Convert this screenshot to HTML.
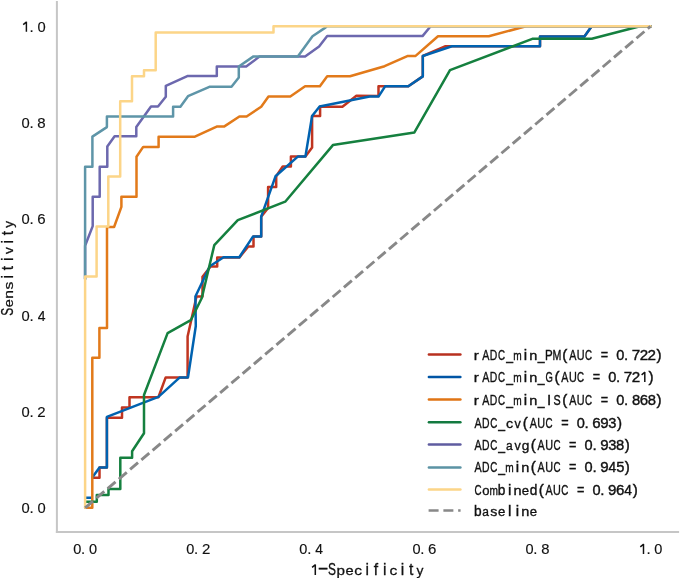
<!DOCTYPE html>
<html><head><meta charset="utf-8"><title>ROC</title>
<style>
html,body{margin:0;padding:0;background:#fff;}
body{width:680px;height:578px;overflow:hidden;font-family:"Liberation Sans",sans-serif;}
svg{display:block;will-change:transform;}
</style></head><body>
<svg width="680" height="578" viewBox="0 0 680 578">
<rect width="680" height="578" fill="#ffffff"/>
<line x1="56.9" y1="1.1" x2="56.9" y2="532.9" stroke="#C6C6C6" stroke-width="2"/>
<line x1="55.9" y1="531.9" x2="679.1" y2="531.9" stroke="#C6C6C6" stroke-width="2"/>
<g fill="none" stroke-width="2.5" stroke-linejoin="round" stroke-linecap="round">
<polyline points="92.3,477.8 99.5,477.8 99.5,467.4 106.9,467.4 106.9,417.7 122.0,417.7 122.0,407.4 129.5,407.4 129.5,397.3 158.4,397.3 165.7,377.4 187.6,377.4 187.6,336.5 196.5,296.6 202.5,296.6 202.5,276.8 210.6,266.5 217.2,266.5 217.2,257.6 239.3,257.6 248.1,246.6 253.5,246.6 253.5,236.4 261.2,236.4 261.2,216.6 268.1,207.9 268.1,186.9 276.2,186.9 276.2,176.2 282.7,166.4 290.9,166.4 290.9,156.6 305.4,156.6 312.1,147.6 312.1,116.0 320.1,116.0 320.1,106.8 342.4,106.8 356.4,95.8 378.5,95.9 378.5,86.3 385.1,86.3 408.3,86.3 422.8,76.4 422.8,56.0 445.0,46.3 540.0,46.3 540.0,36.4 584.4,36.4 590.3,28.2 591.7,26.3 650.5,26.3" stroke="#C03520"/>
<polyline points="85.9,497.8 91.2,497.8" stroke="#0062B0"/>
<polyline points="92.6,477.0 99.5,467.4 106.9,467.4 106.9,416.8 158.4,396.9 179.8,377.4 188.0,377.4 195.8,326.0 195.4,296.5 209.8,266.2 223.6,257.2 239.3,257.2 253.1,236.4 261.2,236.4 261.2,216.6 275.5,176.3 297.8,156.6 305.4,156.6 312.1,116.0 319.6,106.4 369.7,96.6 378.5,96.6 385.1,86.3 408.3,86.3 422.8,76.4 422.8,56.0 451.9,46.3 540.0,46.3 540.0,36.4 584.4,36.4 590.3,28.2 591.7,26.3 650.5,26.3" stroke="#0062B0"/>
<polyline points="85.1,507.8 92.3,507.8 92.3,357.7 99.4,357.7 99.4,328.1 107.0,328.1 107.0,227.0 114.1,227.0 121.4,206.9 121.4,196.7 136.5,196.7 136.5,156.7 143.2,146.9 158.6,146.9 158.6,136.7 194.9,136.7 216.7,126.6 224.0,126.6 239.4,116.5 246.6,116.5 261.2,106.8 268.5,96.5 290.3,96.5 305.1,86.3 319.9,86.3 327.2,76.2 350.0,76.2 384.6,66.2 407.9,55.9 415.6,55.9 438.0,36.2 488.8,36.2 526.0,26.3 650.5,26.3" stroke="#E27A1A"/>
<polyline points="86.2,501.7 96.8,501.7 96.8,495.1 108.5,495.1 108.5,489.0 120.3,489.0 120.3,457.8 132.1,457.8 132.1,451.3 144.0,433.2 144.0,395.0 167.6,333.1 190.8,320.2 201.8,298.0 214.3,245.1 237.8,220.1 285.2,201.7 332.9,145.1 414.4,132.4 450.0,70.2 532.3,38.8 591.8,38.8 640.0,26.3 650.5,26.3" stroke="#15803F"/>
<polyline points="85.1,279.0 85.1,245.7 92.7,226.1 92.7,196.7 99.7,196.7 99.7,166.8 107.3,166.8 107.3,146.5 114.6,136.3 136.3,136.3 136.3,126.9 151.0,106.6 158.0,106.6 165.8,96.7 165.8,85.8 187.3,76.1 216.8,76.1 216.8,66.5 246.2,66.5 259.5,56.6 305.1,56.6 319.1,46.5 327.2,36.1 422.5,36.1 429.0,28.2 430.5,26.3 650.5,26.3" stroke="#6C68AE"/>
<polyline points="85.1,279.0 85.1,166.8 92.4,166.8 92.4,136.6 106.9,127.1 106.9,116.6 173.1,116.6 173.1,106.8 180.4,106.8 188.0,96.2 209.4,86.8 231.5,86.8 238.8,77.5 238.8,66.5 253.5,56.4 297.8,56.4 312.5,36.2 325.7,27.4 327.0,26.3 650.5,26.3" stroke="#5E95A8"/>
<polyline points="85.1,507.8 85.1,276.4 96.6,276.4 96.6,226.4 108.3,226.4 108.3,176.4 120.2,176.4 120.2,101.3 132.0,101.3 132.0,76.2 144.0,76.2 144.0,70.2 155.7,70.2 155.7,32.6 273.5,32.6 273.5,26.2 650.5,26.2" stroke="#FCD588"/>
</g>
<line x1="85.1" y1="507.8" x2="650.5" y2="26.3" stroke="#888888" stroke-width="2.9" stroke-dasharray="10.4 4.38" stroke-linecap="butt"/>
<g font-family="Liberation Sans, sans-serif" fill="#111111" stroke="#111111" stroke-width="0.4">
<g stroke-width="0.15">
<text transform="translate(21.40,513.20) scale(0.982,1.0)" font-size="15">0</text>
<text transform="translate(29.42,513.20) scale(1.000,1.0)" font-size="15">.</text>
<text transform="translate(37.40,513.20) scale(0.982,1.0)" font-size="15">0</text>
<text transform="translate(21.40,416.90) scale(0.982,1.0)" font-size="15">0</text>
<text transform="translate(29.42,416.90) scale(1.000,1.0)" font-size="15">.</text>
<text transform="translate(37.33,416.90) scale(1.000,1.0)" font-size="15">2</text>
<text transform="translate(21.40,320.60) scale(0.982,1.0)" font-size="15">0</text>
<text transform="translate(29.42,320.60) scale(1.000,1.0)" font-size="15">.</text>
<text transform="translate(37.66,320.60) scale(0.931,1.0)" font-size="15">4</text>
<text transform="translate(21.40,224.30) scale(0.982,1.0)" font-size="15">0</text>
<text transform="translate(29.42,224.30) scale(1.000,1.0)" font-size="15">.</text>
<text transform="translate(37.28,224.30) scale(1.000,1.0)" font-size="15">6</text>
<text transform="translate(21.40,128.00) scale(0.982,1.0)" font-size="15">0</text>
<text transform="translate(29.42,128.00) scale(1.000,1.0)" font-size="15">.</text>
<text transform="translate(37.33,128.00) scale(1.000,1.0)" font-size="15">8</text>
<path d="M26.40,31.70 V21.68 M26.60,21.88 L23.20,24.58" fill="none" stroke-width="1.46" stroke-linecap="butt"/>
<text transform="translate(29.42,31.70) scale(1.000,1.0)" font-size="15">.</text>
<text transform="translate(37.40,31.70) scale(0.982,1.0)" font-size="15">0</text>
<text transform="translate(73.16,554.00) scale(0.970,1.0)" font-size="15">0</text>
<text transform="translate(81.02,554.00) scale(1.000,1.0)" font-size="15">.</text>
<text transform="translate(88.96,554.00) scale(0.970,1.0)" font-size="15">0</text>
<text transform="translate(186.24,554.00) scale(0.970,1.0)" font-size="15">0</text>
<text transform="translate(194.10,554.00) scale(1.000,1.0)" font-size="15">.</text>
<text transform="translate(201.91,554.00) scale(1.000,1.0)" font-size="15">2</text>
<text transform="translate(299.32,554.00) scale(0.970,1.0)" font-size="15">0</text>
<text transform="translate(307.18,554.00) scale(1.000,1.0)" font-size="15">.</text>
<text transform="translate(315.37,554.00) scale(0.920,1.0)" font-size="15">4</text>
<text transform="translate(412.40,554.00) scale(0.970,1.0)" font-size="15">0</text>
<text transform="translate(420.26,554.00) scale(1.000,1.0)" font-size="15">.</text>
<text transform="translate(428.02,554.00) scale(1.000,1.0)" font-size="15">6</text>
<text transform="translate(525.48,554.00) scale(0.970,1.0)" font-size="15">0</text>
<text transform="translate(533.34,554.00) scale(1.000,1.0)" font-size="15">.</text>
<text transform="translate(541.20,554.00) scale(0.988,1.0)" font-size="15">8</text>
<path d="M643.50,554.00 V543.98 M643.70,544.18 L640.30,546.88" fill="none" stroke-width="1.46" stroke-linecap="butt"/>
<text transform="translate(646.42,554.00) scale(1.000,1.0)" font-size="15">.</text>
<text transform="translate(654.36,554.00) scale(0.970,1.0)" font-size="15">0</text>
</g>
<g stroke-width="0.3">
<path d="M315.30,574.90 V564.47 M315.50,564.67 L312.10,567.37" fill="none" stroke-width="1.52" stroke-linecap="butt"/>
<text transform="translate(317.62,573.30) scale(2.149,1.0)" font-size="15.6">-</text>
<text transform="translate(328.03,574.90) scale(0.764,1.0)" font-size="15.6">S</text>
<text transform="translate(336.38,574.90) scale(0.978,0.87)" font-size="15.6">p</text>
<text transform="translate(345.55,574.90) scale(0.938,0.87)" font-size="15.6">e</text>
<text transform="translate(354.37,574.90) scale(1.000,0.87)" font-size="15.6">c</text>
<text transform="translate(365.47,574.90) scale(1.000,1.0)" font-size="15.6">i</text>
<text transform="translate(373.71,574.90) scale(1.000,1.0)" font-size="15.6">f</text>
<text transform="translate(383.07,574.90) scale(1.000,1.0)" font-size="15.6">i</text>
<text transform="translate(389.57,574.90) scale(1.000,0.87)" font-size="15.6">c</text>
<text transform="translate(400.67,574.90) scale(1.000,1.0)" font-size="15.6">i</text>
<text transform="translate(408.97,574.90) scale(1.000,1.0)" font-size="15.6">t</text>
<text transform="translate(416.53,574.90) scale(0.888,0.87)" font-size="15.6">y</text>
<g transform="translate(13.2,268.1) rotate(-90)">
<text transform="translate(-47.70,0.00) scale(0.760,1.0)" font-size="15.6">S</text>
<text transform="translate(-39.03,0.00) scale(0.932,0.87)" font-size="15.6">e</text>
<text transform="translate(-30.60,0.00) scale(1.000,0.87)" font-size="15.6">n</text>
<text transform="translate(-21.34,0.00) scale(1.000,0.87)" font-size="15.6">s</text>
<text transform="translate(-10.48,0.00) scale(1.000,1.0)" font-size="15.6">i</text>
<text transform="translate(-2.23,0.00) scale(1.000,1.0)" font-size="15.6">t</text>
<text transform="translate(7.02,0.00) scale(1.000,1.0)" font-size="15.6">i</text>
<text transform="translate(14.04,0.00) scale(0.887,0.87)" font-size="15.6">v</text>
<text transform="translate(24.52,0.00) scale(1.000,1.0)" font-size="15.6">i</text>
<text transform="translate(32.77,0.00) scale(1.000,1.0)" font-size="15.6">t</text>
<text transform="translate(40.30,0.00) scale(0.883,0.87)" font-size="15.6">y</text>
</g>
</g>
<line x1="428.9" y1="354.40" x2="460.4" y2="354.40" stroke="#B8301F" stroke-width="2.5" stroke-linecap="round"/>
<text transform="translate(473.79,359.60) scale(1.000,0.87)" font-size="15.2">r</text>
<text transform="translate(482.32,359.60) scale(0.705,1.0)" font-size="15.2">A</text>
<text transform="translate(489.87,359.60) scale(0.684,1.0)" font-size="15.2">D</text>
<text transform="translate(498.12,359.60) scale(0.640,1.0)" font-size="15.2">C</text>
<text transform="translate(506.23,359.60) scale(0.803,1.0)" font-size="15.2">_</text>
<text transform="translate(513.27,359.60) scale(0.668,0.87)" font-size="15.2">m</text>
<text transform="translate(523.72,359.60) scale(1.000,1.0)" font-size="15.2">i</text>
<text transform="translate(529.26,359.60) scale(0.954,0.87)" font-size="15.2">n</text>
<text transform="translate(537.83,359.60) scale(0.803,1.0)" font-size="15.2">_</text>
<text transform="translate(545.07,359.60) scale(0.762,1.0)" font-size="15.2">P</text>
<text transform="translate(552.57,359.60) scale(0.699,1.0)" font-size="15.2">M</text>
<text transform="translate(562.34,359.60) scale(1.000,1.0)" font-size="15.2">(</text>
<text transform="translate(569.22,359.60) scale(0.705,1.0)" font-size="15.2">A</text>
<text transform="translate(576.78,359.60) scale(0.714,1.0)" font-size="15.2">U</text>
<text transform="translate(585.02,359.60) scale(0.640,1.0)" font-size="15.2">C</text>
<text transform="translate(600.70,359.60) scale(0.834,1.0)" font-size="15.2">=</text>
<text transform="translate(616.16,359.60) scale(0.957,1.0)" font-size="15.2">0</text>
<text transform="translate(623.99,359.60) scale(1.000,1.0)" font-size="15.2">.</text>
<text transform="translate(631.77,359.60) scale(1.000,1.0)" font-size="15.2">7</text>
<text transform="translate(639.67,359.60) scale(1.000,1.0)" font-size="15.2">2</text>
<text transform="translate(647.57,359.60) scale(1.000,1.0)" font-size="15.2">2</text>
<text transform="translate(656.40,359.60) scale(1.000,1.0)" font-size="15.2">)</text>
<line x1="428.9" y1="377.00" x2="460.4" y2="377.00" stroke="#0055A5" stroke-width="2.5" stroke-linecap="round"/>
<text transform="translate(473.79,382.10) scale(1.000,0.87)" font-size="15.2">r</text>
<text transform="translate(482.32,382.10) scale(0.705,1.0)" font-size="15.2">A</text>
<text transform="translate(489.87,382.10) scale(0.684,1.0)" font-size="15.2">D</text>
<text transform="translate(498.12,382.10) scale(0.640,1.0)" font-size="15.2">C</text>
<text transform="translate(506.23,382.10) scale(0.803,1.0)" font-size="15.2">_</text>
<text transform="translate(513.27,382.10) scale(0.668,0.87)" font-size="15.2">m</text>
<text transform="translate(523.72,382.10) scale(1.000,1.0)" font-size="15.2">i</text>
<text transform="translate(529.26,382.10) scale(0.954,0.87)" font-size="15.2">n</text>
<text transform="translate(537.83,382.10) scale(0.803,1.0)" font-size="15.2">_</text>
<text transform="translate(545.54,382.10) scale(0.621,1.0)" font-size="15.2">G</text>
<text transform="translate(554.44,382.10) scale(1.000,1.0)" font-size="15.2">(</text>
<text transform="translate(561.32,382.10) scale(0.705,1.0)" font-size="15.2">A</text>
<text transform="translate(568.88,382.10) scale(0.714,1.0)" font-size="15.2">U</text>
<text transform="translate(577.12,382.10) scale(0.640,1.0)" font-size="15.2">C</text>
<text transform="translate(592.80,382.10) scale(0.834,1.0)" font-size="15.2">=</text>
<text transform="translate(608.26,382.10) scale(0.957,1.0)" font-size="15.2">0</text>
<text transform="translate(616.09,382.10) scale(1.000,1.0)" font-size="15.2">.</text>
<text transform="translate(623.87,382.10) scale(1.000,1.0)" font-size="15.2">7</text>
<text transform="translate(631.77,382.10) scale(1.000,1.0)" font-size="15.2">2</text>
<path d="M644.80,382.10 V371.94 M645.00,372.14 L641.60,374.84" fill="none" stroke-width="1.48" stroke-linecap="butt"/>
<text transform="translate(648.50,382.10) scale(1.000,1.0)" font-size="15.2">)</text>
<line x1="428.9" y1="399.50" x2="460.4" y2="399.50" stroke="#E07414" stroke-width="2.5" stroke-linecap="round"/>
<text transform="translate(473.79,404.70) scale(1.000,0.87)" font-size="15.2">r</text>
<text transform="translate(482.32,404.70) scale(0.705,1.0)" font-size="15.2">A</text>
<text transform="translate(489.87,404.70) scale(0.684,1.0)" font-size="15.2">D</text>
<text transform="translate(498.12,404.70) scale(0.640,1.0)" font-size="15.2">C</text>
<text transform="translate(506.23,404.70) scale(0.803,1.0)" font-size="15.2">_</text>
<text transform="translate(513.27,404.70) scale(0.668,0.87)" font-size="15.2">m</text>
<text transform="translate(523.72,404.70) scale(1.000,1.0)" font-size="15.2">i</text>
<text transform="translate(529.26,404.70) scale(0.954,0.87)" font-size="15.2">n</text>
<text transform="translate(537.83,404.70) scale(0.803,1.0)" font-size="15.2">_</text>
<text transform="translate(546.99,404.70) scale(1.000,1.0)" font-size="15.2">I</text>
<text transform="translate(553.43,404.70) scale(0.704,1.0)" font-size="15.2">S</text>
<text transform="translate(562.34,404.70) scale(1.000,1.0)" font-size="15.2">(</text>
<text transform="translate(569.22,404.70) scale(0.705,1.0)" font-size="15.2">A</text>
<text transform="translate(576.78,404.70) scale(0.714,1.0)" font-size="15.2">U</text>
<text transform="translate(585.02,404.70) scale(0.640,1.0)" font-size="15.2">C</text>
<text transform="translate(600.70,404.70) scale(0.834,1.0)" font-size="15.2">=</text>
<text transform="translate(616.16,404.70) scale(0.957,1.0)" font-size="15.2">0</text>
<text transform="translate(623.99,404.70) scale(1.000,1.0)" font-size="15.2">.</text>
<text transform="translate(631.88,404.70) scale(0.975,1.0)" font-size="15.2">8</text>
<text transform="translate(639.66,404.70) scale(0.991,1.0)" font-size="15.2">6</text>
<text transform="translate(647.68,404.70) scale(0.975,1.0)" font-size="15.2">8</text>
<text transform="translate(656.40,404.70) scale(1.000,1.0)" font-size="15.2">)</text>
<line x1="428.9" y1="422.30" x2="460.4" y2="422.30" stroke="#137A40" stroke-width="2.5" stroke-linecap="round"/>
<text transform="translate(474.42,427.60) scale(0.705,1.0)" font-size="15.2">A</text>
<text transform="translate(481.97,427.60) scale(0.684,1.0)" font-size="15.2">D</text>
<text transform="translate(490.22,427.60) scale(0.640,1.0)" font-size="15.2">C</text>
<text transform="translate(498.33,427.60) scale(0.803,1.0)" font-size="15.2">_</text>
<text transform="translate(505.91,427.60) scale(0.940,0.87)" font-size="15.2">c</text>
<text transform="translate(514.38,427.60) scale(0.822,0.87)" font-size="15.2">v</text>
<text transform="translate(522.84,427.60) scale(1.000,1.0)" font-size="15.2">(</text>
<text transform="translate(529.72,427.60) scale(0.705,1.0)" font-size="15.2">A</text>
<text transform="translate(537.28,427.60) scale(0.714,1.0)" font-size="15.2">U</text>
<text transform="translate(545.52,427.60) scale(0.640,1.0)" font-size="15.2">C</text>
<text transform="translate(561.20,427.60) scale(0.834,1.0)" font-size="15.2">=</text>
<text transform="translate(576.66,427.60) scale(0.957,1.0)" font-size="15.2">0</text>
<text transform="translate(584.49,427.60) scale(1.000,1.0)" font-size="15.2">.</text>
<text transform="translate(592.26,427.60) scale(0.991,1.0)" font-size="15.2">6</text>
<text transform="translate(600.22,427.60) scale(0.990,1.0)" font-size="15.2">9</text>
<text transform="translate(608.27,427.60) scale(0.965,1.0)" font-size="15.2">3</text>
<text transform="translate(616.90,427.60) scale(1.000,1.0)" font-size="15.2">)</text>
<line x1="428.9" y1="444.60" x2="460.4" y2="444.60" stroke="#5F5CA0" stroke-width="2.5" stroke-linecap="round"/>
<text transform="translate(474.42,449.90) scale(0.705,1.0)" font-size="15.2">A</text>
<text transform="translate(481.97,449.90) scale(0.684,1.0)" font-size="15.2">D</text>
<text transform="translate(490.22,449.90) scale(0.640,1.0)" font-size="15.2">C</text>
<text transform="translate(498.33,449.90) scale(0.803,1.0)" font-size="15.2">_</text>
<text transform="translate(506.01,449.90) scale(0.789,0.87)" font-size="15.2">a</text>
<text transform="translate(514.38,449.90) scale(0.822,0.87)" font-size="15.2">v</text>
<text transform="translate(521.74,449.90) scale(0.901,0.87)" font-size="15.2">g</text>
<text transform="translate(530.74,449.90) scale(1.000,1.0)" font-size="15.2">(</text>
<text transform="translate(537.62,449.90) scale(0.705,1.0)" font-size="15.2">A</text>
<text transform="translate(545.18,449.90) scale(0.714,1.0)" font-size="15.2">U</text>
<text transform="translate(553.42,449.90) scale(0.640,1.0)" font-size="15.2">C</text>
<text transform="translate(569.10,449.90) scale(0.834,1.0)" font-size="15.2">=</text>
<text transform="translate(584.56,449.90) scale(0.957,1.0)" font-size="15.2">0</text>
<text transform="translate(592.39,449.90) scale(1.000,1.0)" font-size="15.2">.</text>
<text transform="translate(600.22,449.90) scale(0.990,1.0)" font-size="15.2">9</text>
<text transform="translate(608.27,449.90) scale(0.965,1.0)" font-size="15.2">3</text>
<text transform="translate(616.08,449.90) scale(0.975,1.0)" font-size="15.2">8</text>
<text transform="translate(624.80,449.90) scale(1.000,1.0)" font-size="15.2">)</text>
<line x1="428.9" y1="467.50" x2="460.4" y2="467.50" stroke="#5B93A4" stroke-width="2.5" stroke-linecap="round"/>
<text transform="translate(474.42,472.20) scale(0.705,1.0)" font-size="15.2">A</text>
<text transform="translate(481.97,472.20) scale(0.684,1.0)" font-size="15.2">D</text>
<text transform="translate(490.22,472.20) scale(0.640,1.0)" font-size="15.2">C</text>
<text transform="translate(498.33,472.20) scale(0.803,1.0)" font-size="15.2">_</text>
<text transform="translate(505.37,472.20) scale(0.668,0.87)" font-size="15.2">m</text>
<text transform="translate(515.82,472.20) scale(1.000,1.0)" font-size="15.2">i</text>
<text transform="translate(521.36,472.20) scale(0.954,0.87)" font-size="15.2">n</text>
<text transform="translate(530.74,472.20) scale(1.000,1.0)" font-size="15.2">(</text>
<text transform="translate(537.62,472.20) scale(0.705,1.0)" font-size="15.2">A</text>
<text transform="translate(545.18,472.20) scale(0.714,1.0)" font-size="15.2">U</text>
<text transform="translate(553.42,472.20) scale(0.640,1.0)" font-size="15.2">C</text>
<text transform="translate(569.10,472.20) scale(0.834,1.0)" font-size="15.2">=</text>
<text transform="translate(584.56,472.20) scale(0.957,1.0)" font-size="15.2">0</text>
<text transform="translate(592.39,472.20) scale(1.000,1.0)" font-size="15.2">.</text>
<text transform="translate(600.22,472.20) scale(0.990,1.0)" font-size="15.2">9</text>
<text transform="translate(608.51,472.20) scale(0.908,1.0)" font-size="15.2">4</text>
<text transform="translate(616.14,472.20) scale(0.965,1.0)" font-size="15.2">5</text>
<text transform="translate(624.80,472.20) scale(1.000,1.0)" font-size="15.2">)</text>
<line x1="428.9" y1="489.40" x2="460.4" y2="489.40" stroke="#FCD588" stroke-width="2.5" stroke-linecap="round"/>
<text transform="translate(474.42,494.70) scale(0.640,1.0)" font-size="15.2">C</text>
<text transform="translate(482.27,494.70) scale(0.859,0.87)" font-size="15.2">o</text>
<text transform="translate(489.57,494.70) scale(0.668,0.87)" font-size="15.2">m</text>
<text transform="translate(497.74,494.70) scale(0.901,1.0)" font-size="15.2">b</text>
<text transform="translate(507.92,494.70) scale(1.000,1.0)" font-size="15.2">i</text>
<text transform="translate(513.46,494.70) scale(0.954,0.87)" font-size="15.2">n</text>
<text transform="translate(521.76,494.70) scale(0.864,0.87)" font-size="15.2">e</text>
<text transform="translate(529.64,494.70) scale(0.901,1.0)" font-size="15.2">d</text>
<text transform="translate(538.64,494.70) scale(1.000,1.0)" font-size="15.2">(</text>
<text transform="translate(545.52,494.70) scale(0.705,1.0)" font-size="15.2">A</text>
<text transform="translate(553.08,494.70) scale(0.714,1.0)" font-size="15.2">U</text>
<text transform="translate(561.32,494.70) scale(0.640,1.0)" font-size="15.2">C</text>
<text transform="translate(577.00,494.70) scale(0.834,1.0)" font-size="15.2">=</text>
<text transform="translate(592.46,494.70) scale(0.957,1.0)" font-size="15.2">0</text>
<text transform="translate(600.29,494.70) scale(1.000,1.0)" font-size="15.2">.</text>
<text transform="translate(608.12,494.70) scale(0.990,1.0)" font-size="15.2">9</text>
<text transform="translate(615.96,494.70) scale(0.991,1.0)" font-size="15.2">6</text>
<text transform="translate(624.31,494.70) scale(0.908,1.0)" font-size="15.2">4</text>
<text transform="translate(632.70,494.70) scale(1.000,1.0)" font-size="15.2">)</text>
<line x1="428.6" y1="510.40" x2="460.6" y2="510.40" stroke="#888888" stroke-width="2.5" stroke-dasharray="10 4.78" stroke-linecap="butt"/>
<text transform="translate(474.04,516.10) scale(0.901,1.0)" font-size="15.2">b</text>
<text transform="translate(482.31,516.10) scale(0.789,0.87)" font-size="15.2">a</text>
<text transform="translate(490.33,516.10) scale(0.930,0.87)" font-size="15.2">s</text>
<text transform="translate(498.06,516.10) scale(0.864,0.87)" font-size="15.2">e</text>
<text transform="translate(507.91,516.10) scale(1.000,1.0)" font-size="15.2">l</text>
<text transform="translate(515.82,516.10) scale(1.000,1.0)" font-size="15.2">i</text>
<text transform="translate(521.36,516.10) scale(0.954,0.87)" font-size="15.2">n</text>
<text transform="translate(529.66,516.10) scale(0.864,0.87)" font-size="15.2">e</text>
</g>
</svg>
</body></html>
